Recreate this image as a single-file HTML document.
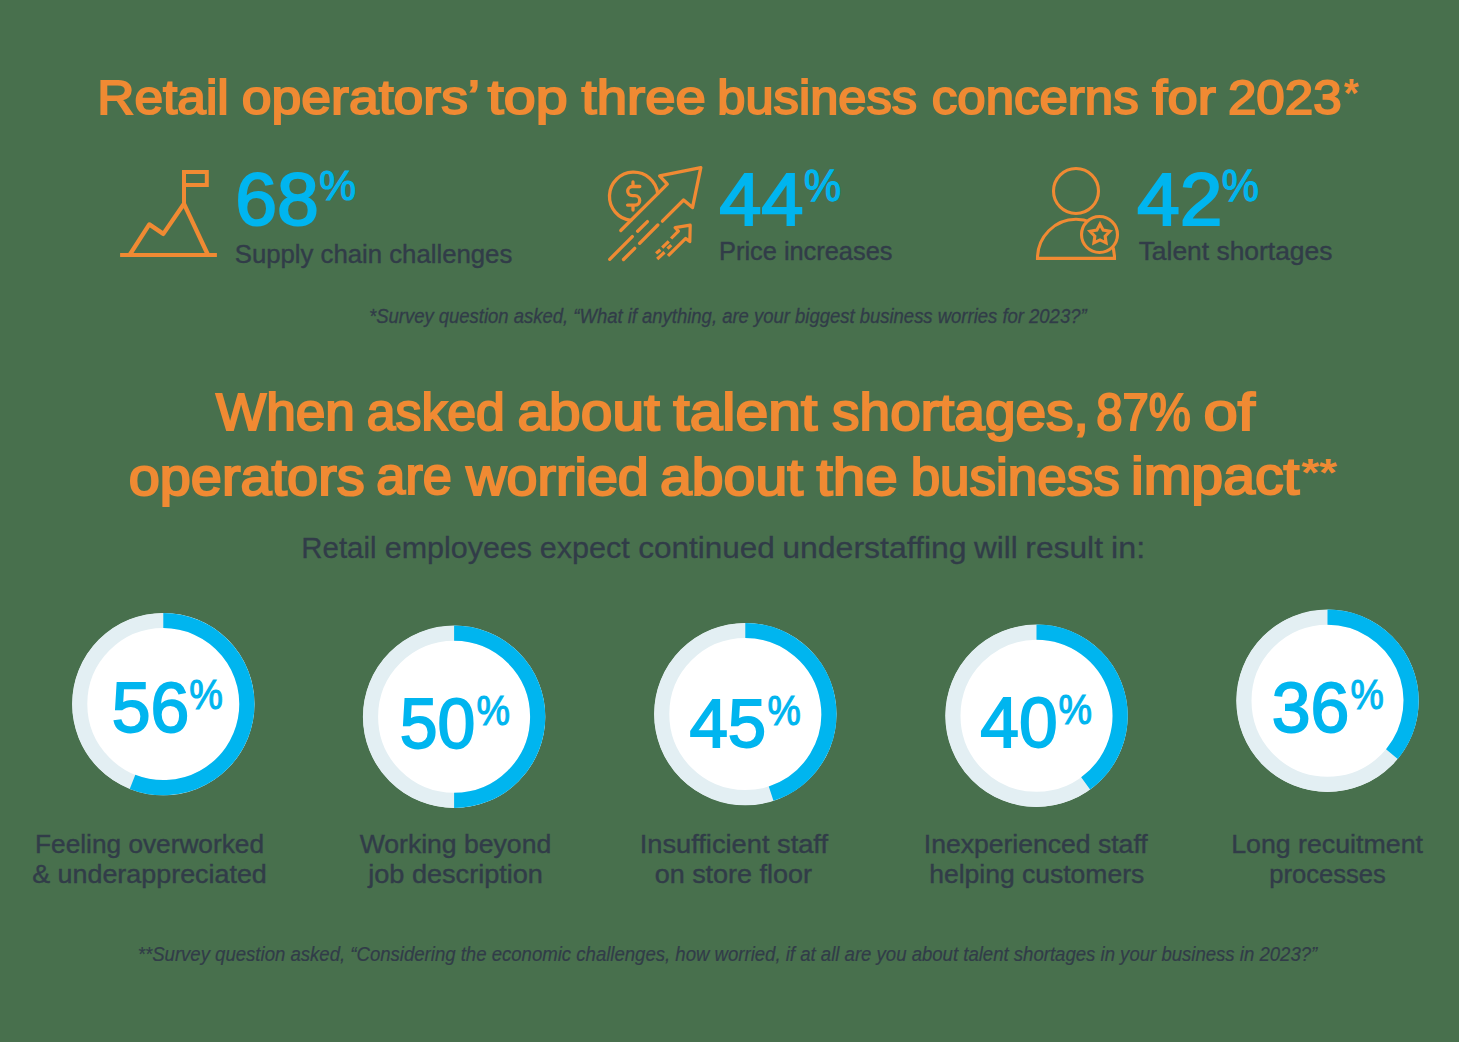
<!DOCTYPE html>
<html><head><meta charset="utf-8"><title>Retail infographic</title>
<style>
html,body{margin:0;padding:0}
body{width:1459px;height:1042px;background:#48704d;position:relative;overflow:hidden;font-family:"Liberation Sans",sans-serif}
.t{position:absolute;left:0;top:0;white-space:nowrap;line-height:1;transform-origin:0 0}
svg{position:absolute;left:0;top:0}
</style></head><body>
<svg width="1459" height="1042" viewBox="0 0 1459 1042">
<circle cx="163.3" cy="704.1" r="90.90" fill="#fff"/><circle cx="163.3" cy="704.1" r="83.60" fill="none" stroke="#e3eff3" stroke-width="15.2"/><path d="M163.30 620.50A83.60 83.60 0 1 1 132.52 781.83" fill="none" stroke="#00b5ef" stroke-width="15.2"/>
<circle cx="454.1" cy="716.8" r="90.90" fill="#fff"/><circle cx="454.1" cy="716.8" r="83.60" fill="none" stroke="#e3eff3" stroke-width="15.2"/><path d="M454.10 633.20A83.60 83.60 0 0 1 454.10 800.40" fill="none" stroke="#00b5ef" stroke-width="15.2"/>
<circle cx="745.3" cy="714.1" r="90.90" fill="#fff"/><circle cx="745.3" cy="714.1" r="83.60" fill="none" stroke="#e3eff3" stroke-width="15.2"/><path d="M745.30 630.50A83.60 83.60 0 0 1 771.13 793.61" fill="none" stroke="#00b5ef" stroke-width="15.2"/>
<circle cx="1036.5" cy="715.8" r="90.90" fill="#fff"/><circle cx="1036.5" cy="715.8" r="83.60" fill="none" stroke="#e3eff3" stroke-width="15.2"/><path d="M1036.50 632.20A83.60 83.60 0 0 1 1085.64 783.43" fill="none" stroke="#00b5ef" stroke-width="15.2"/>
<circle cx="1327.5" cy="700.8" r="90.90" fill="#fff"/><circle cx="1327.5" cy="700.8" r="83.60" fill="none" stroke="#e3eff3" stroke-width="15.2"/><path d="M1327.50 617.20A83.60 83.60 0 0 1 1391.91 754.09" fill="none" stroke="#00b5ef" stroke-width="15.2"/>
<g fill="none" stroke="#f08a33" stroke-width="4" stroke-linejoin="round" stroke-linecap="butt">
<path d="M120.1 255H216.9"/>
<path d="M129.6 255L149.3 224.4L163.3 233.9L184 203.8L208 255" stroke-width="4.3"/>
<path d="M184 204.5V172.1H206.8V185.1H184" stroke-linejoin="miter"/>
</g>
<g fill="none" stroke="#f08a33" stroke-width="3.3" stroke-linejoin="round" stroke-linecap="round">
<path d="M657.7 193.6A24.2 24.2 0 1 0 630.9 220.4"/>
<path d="M639.8 186.5H632.3A4.6 4.6 0 0 0 632.3 195.7H635A4.7 4.7 0 0 1 635 205.1H627.6M633 181.9V186.5M633 205.1V210"/>
<path d="M620.8 230.5L667.3 184.2L659.6 175.9L700.8 167.6L692.5 207.6L683.6 200L662.4 221.2"/>
<path d="M637.6 231.2L647.4 221.6M639.6 243.3L657.8 225M609.7 259.3L632.3 236.6M623.5 259.5L634.7 248.3"/>
</g>
<g fill="none" stroke="#f08a33" stroke-width="3.2" stroke-linejoin="round" stroke-linecap="butt">
<path d="M671.1 238.5L678.4 231.1L675.2 227.7L690.2 225.2L689.8 241.6L685.7 238.4L668 255.9"/>
<path d="M668.8 241.4L662.2 247.7M660.4 249.7L656.1 253.4M671.2 245.1L667.5 248.7M664.5 252.3L657.2 259"/>
</g>
<g fill="none" stroke="#f08a33" stroke-width="3.1" stroke-linejoin="miter">
<circle cx="1076" cy="191" r="22.5"/>
<path d="M1037.5 258.4A38.5 39.1 0 0 1 1114.5 258.4Z"/>
<circle cx="1099.5" cy="234.55" r="18" fill="#48704d"/>
<path d="M1100.00 224.10L1103.17 230.13L1109.89 231.29L1105.14 236.17L1106.11 242.91L1100.00 239.90L1093.89 242.91L1094.86 236.17L1090.11 231.29L1096.83 230.13Z" stroke-width="3.1"/>
</g>
</svg>
<div class="t" style="color:#f08a33;font-size:34px;font-weight:700;transform:translate(1343.63px,72.93px) scale(1.1273,1.1733)">*</div>
<div class="t" style="color:#00b5ef;font-size:76px;font-weight:400;-webkit-text-stroke:2.0px currentColor;transform:translate(235.14px,162.18px) scale(0.9896,0.9833)">68</div>
<div class="t" style="color:#00b5ef;font-size:45px;font-weight:400;-webkit-text-stroke:1.3px currentColor;transform:translate(319.21px,164.49px) scale(0.9172,0.9416)">%</div>
<div class="t" style="color:#313c48;font-size:25px;font-weight:400;-webkit-text-stroke:0.4px currentColor;transform:translate(234.72px,242.38px) scale(1.0295,1.0000)">Supply chain challenges</div>
<div class="t" style="color:#00b5ef;font-size:76px;font-weight:400;-webkit-text-stroke:2.0px currentColor;transform:translate(719.18px,162.39px) scale(0.9978,0.9727)">44</div>
<div class="t" style="color:#00b5ef;font-size:45px;font-weight:400;-webkit-text-stroke:1.3px currentColor;transform:translate(804.06px,163.66px) scale(0.9246,0.9734)">%</div>
<div class="t" style="color:#313c48;font-size:25px;font-weight:400;-webkit-text-stroke:0.4px currentColor;transform:translate(719.02px,238.50px) scale(1.0149,1.0000)">Price increases</div>
<div class="t" style="color:#00b5ef;font-size:76px;font-weight:400;-webkit-text-stroke:2.0px currentColor;transform:translate(1137.06px,161.79px) scale(1.0118,0.9818)">42</div>
<div class="t" style="color:#00b5ef;font-size:45px;font-weight:400;-webkit-text-stroke:1.3px currentColor;transform:translate(1221.63px,163.66px) scale(0.9280,0.9734)">%</div>
<div class="t" style="color:#313c48;font-size:25px;font-weight:400;-webkit-text-stroke:0.4px currentColor;transform:translate(1138.67px,238.50px) scale(1.0563,1.0000)">Talent shortages</div>
<div class="t" style="color:#313c48;font-size:19.5px;font-weight:400;font-style:italic;-webkit-text-stroke:0.3px currentColor;transform:translate(369.01px,307.03px) scale(0.9471,1.0000)">*Survey question asked, “What if anything, are your biggest business worries for 2023?”</div>
<div class="t" style="color:#f08a33;font-size:34px;font-weight:700;transform:translate(1301.14px,453.05px) scale(1.3536,1.1370)">**</div>
<div class="t" style="color:#313c48;font-size:19.5px;font-weight:400;font-style:italic;-webkit-text-stroke:0.2px currentColor;transform:translate(137.72px,945.17px) scale(0.9520,1.0000)">**Survey question asked, “Considering the economic challenges, how worried, if at all are you about talent shortages in your business in 2023?”</div>
<div class="t" style="color:#313c48;font-size:25px;font-weight:400;-webkit-text-stroke:0.4px currentColor;transform:translate(35.05px,831.83px) scale(1.0493,1.0000)">Feeling overworked</div>
<div class="t" style="color:#313c48;font-size:25px;font-weight:400;-webkit-text-stroke:0.4px currentColor;transform:translate(32.18px,861.62px) scale(1.0752,1.0000)">&amp; underappreciated</div>
<div class="t" style="color:#313c48;font-size:25px;font-weight:400;-webkit-text-stroke:0.4px currentColor;transform:translate(359.65px,832.07px) scale(1.0630,1.0000)">Working beyond</div>
<div class="t" style="color:#313c48;font-size:25px;font-weight:400;-webkit-text-stroke:0.4px currentColor;transform:translate(368.27px,861.50px) scale(1.0835,1.0000)">job description</div>
<div class="t" style="color:#313c48;font-size:25px;font-weight:400;-webkit-text-stroke:0.4px currentColor;transform:translate(639.74px,832.07px) scale(1.0895,1.0000)">Insufficient staff</div>
<div class="t" style="color:#313c48;font-size:25px;font-weight:400;-webkit-text-stroke:0.4px currentColor;transform:translate(654.65px,861.77px) scale(1.0786,1.0000)">on store floor</div>
<div class="t" style="color:#313c48;font-size:25px;font-weight:400;-webkit-text-stroke:0.4px currentColor;transform:translate(923.77px,832.07px) scale(1.0621,1.0000)">Inexperienced staff</div>
<div class="t" style="color:#313c48;font-size:25px;font-weight:400;-webkit-text-stroke:0.4px currentColor;transform:translate(929.19px,861.56px) scale(1.0598,1.0000)">helping customers</div>
<div class="t" style="color:#313c48;font-size:25px;font-weight:400;-webkit-text-stroke:0.4px currentColor;transform:translate(1231.17px,831.65px) scale(1.0697,1.0000)">Long recuitment</div>
<div class="t" style="color:#313c48;font-size:25px;font-weight:400;-webkit-text-stroke:0.4px currentColor;transform:translate(1269.34px,861.77px) scale(1.0226,1.0000)">processes</div>
<div class="t" style="color:#00b5ef;font-size:70px;font-weight:400;-webkit-text-stroke:1.8px currentColor;transform:translate(111.66px,672.94px) scale(0.9975,0.9926)">56</div>
<div class="t" style="color:#00b5ef;font-size:42px;font-weight:400;-webkit-text-stroke:1.1px currentColor;transform:translate(189.23px,673.84px) scale(0.9018,0.9918)">%</div>
<div class="t" style="color:#00b5ef;font-size:70px;font-weight:400;-webkit-text-stroke:1.8px currentColor;transform:translate(399.73px,688.98px) scale(0.9716,0.9924)">50</div>
<div class="t" style="color:#00b5ef;font-size:42px;font-weight:400;-webkit-text-stroke:1.1px currentColor;transform:translate(476.51px,689.84px) scale(0.8975,0.9918)">%</div>
<div class="t" style="color:#00b5ef;font-size:70px;font-weight:400;-webkit-text-stroke:1.8px currentColor;transform:translate(689.38px,689.70px) scale(0.9871,0.9774)">45</div>
<div class="t" style="color:#00b5ef;font-size:42px;font-weight:400;-webkit-text-stroke:1.1px currentColor;transform:translate(767.52px,689.84px) scale(0.8927,0.9918)">%</div>
<div class="t" style="color:#00b5ef;font-size:70px;font-weight:400;-webkit-text-stroke:1.8px currentColor;transform:translate(980.30px,687.36px) scale(0.9929,1.0072)">40</div>
<div class="t" style="color:#00b5ef;font-size:42px;font-weight:400;-webkit-text-stroke:1.1px currentColor;transform:translate(1058.51px,688.84px) scale(0.8975,0.9918)">%</div>
<div class="t" style="color:#00b5ef;font-size:70px;font-weight:400;-webkit-text-stroke:1.8px currentColor;transform:translate(1271.79px,672.74px) scale(0.9970,0.9970)">36</div>
<div class="t" style="color:#00b5ef;font-size:42px;font-weight:400;-webkit-text-stroke:1.1px currentColor;transform:translate(1350.52px,673.84px) scale(0.8927,0.9918)">%</div>
<div class="t" style="color:#f08a33;font-size:48.5px;font-weight:400;-webkit-text-stroke:1.9px currentColor;transform:translate(97.31px,73.32px) scale(1.0602,1.0000)">Retail</div>
<div class="t" style="color:#f08a33;font-size:48.5px;font-weight:400;-webkit-text-stroke:1.9px currentColor;transform:translate(241.78px,73.32px) scale(1.1037,1.0000)">operators’</div>
<div class="t" style="color:#f08a33;font-size:48.5px;font-weight:400;-webkit-text-stroke:1.9px currentColor;transform:translate(487.74px,73.22px) scale(1.1842,1.0000)">top</div>
<div class="t" style="color:#f08a33;font-size:48.5px;font-weight:400;-webkit-text-stroke:1.9px currentColor;transform:translate(581.51px,73.44px) scale(1.1250,1.0000)">three</div>
<div class="t" style="color:#f08a33;font-size:48.5px;font-weight:400;-webkit-text-stroke:1.9px currentColor;transform:translate(717.28px,73.22px) scale(1.0438,1.0000)">business</div>
<div class="t" style="color:#f08a33;font-size:48.5px;font-weight:400;-webkit-text-stroke:1.9px currentColor;transform:translate(931.79px,73.38px) scale(1.0512,1.0000)">concerns</div>
<div class="t" style="color:#f08a33;font-size:48.5px;font-weight:400;-webkit-text-stroke:1.9px currentColor;transform:translate(1152.29px,73.22px) scale(1.1222,1.0000)">for</div>
<div class="t" style="color:#f08a33;font-size:48.5px;font-weight:400;-webkit-text-stroke:1.9px currentColor;transform:translate(1227.95px,73.38px) scale(1.0537,1.0000)">2023</div>
<div class="t" style="color:#f08a33;font-size:51px;font-weight:400;-webkit-text-stroke:2.0px currentColor;transform:translate(215.98px,387.21px) scale(1.0426,1.0000)">When</div>
<div class="t" style="color:#f08a33;font-size:51px;font-weight:400;-webkit-text-stroke:2.0px currentColor;transform:translate(366.77px,387.21px) scale(1.0142,1.0000)">asked</div>
<div class="t" style="color:#f08a33;font-size:51px;font-weight:400;-webkit-text-stroke:2.0px currentColor;transform:translate(517.46px,387.11px) scale(1.1157,1.0000)">about</div>
<div class="t" style="color:#f08a33;font-size:51px;font-weight:400;-webkit-text-stroke:2.0px currentColor;transform:translate(673.27px,387.21px) scale(1.1544,1.0000)">talent</div>
<div class="t" style="color:#f08a33;font-size:51px;font-weight:400;-webkit-text-stroke:2.0px currentColor;transform:translate(832.07px,387.11px) scale(1.0782,1.0000)">shortages,</div>
<div class="t" style="color:#f08a33;font-size:51px;font-weight:400;-webkit-text-stroke:2.0px currentColor;transform:translate(1096.28px,386.97px) scale(0.9267,1.0000)">87%</div>
<div class="t" style="color:#f08a33;font-size:51px;font-weight:400;-webkit-text-stroke:2.0px currentColor;transform:translate(1203.54px,387.45px) scale(1.2090,1.0000)">of</div>
<div class="t" style="color:#f08a33;font-size:51px;font-weight:400;-webkit-text-stroke:2.0px currentColor;transform:translate(128.70px,451.90px) scale(1.0955,1.0000)">operators</div>
<div class="t" style="color:#f08a33;font-size:51px;font-weight:400;-webkit-text-stroke:2.0px currentColor;transform:translate(376.31px,451.40px) scale(1.0248,1.0000)">are</div>
<div class="t" style="color:#f08a33;font-size:51px;font-weight:400;-webkit-text-stroke:2.0px currentColor;transform:translate(466.32px,451.70px) scale(1.0914,1.0000)">worried</div>
<div class="t" style="color:#f08a33;font-size:51px;font-weight:400;-webkit-text-stroke:2.0px currentColor;transform:translate(660.00px,451.90px) scale(1.1213,1.0000)">about</div>
<div class="t" style="color:#f08a33;font-size:51px;font-weight:400;-webkit-text-stroke:2.0px currentColor;transform:translate(816.62px,451.90px) scale(1.1461,1.0000)">the</div>
<div class="t" style="color:#f08a33;font-size:51px;font-weight:400;-webkit-text-stroke:2.0px currentColor;transform:translate(910.66px,451.90px) scale(1.0388,1.0000)">business</div>
<div class="t" style="color:#f08a33;font-size:51px;font-weight:400;-webkit-text-stroke:2.0px currentColor;transform:translate(1130.93px,451.40px) scale(1.1220,1.0000)">impact</div>
<div class="t" style="color:#313c48;font-size:29.5px;font-weight:400;-webkit-text-stroke:0.3px currentColor;transform:translate(301.33px,533.34px) scale(0.9959,1.0000)">Retail</div>
<div class="t" style="color:#313c48;font-size:29.5px;font-weight:400;-webkit-text-stroke:0.3px currentColor;transform:translate(384.76px,533.22px) scale(1.0318,1.0000)">employees</div>
<div class="t" style="color:#313c48;font-size:29.5px;font-weight:400;-webkit-text-stroke:0.3px currentColor;transform:translate(539.71px,533.34px) scale(1.0349,1.0000)">expect</div>
<div class="t" style="color:#313c48;font-size:29.5px;font-weight:400;-webkit-text-stroke:0.3px currentColor;transform:translate(638.14px,533.28px) scale(1.0671,1.0000)">continued</div>
<div class="t" style="color:#313c48;font-size:29.5px;font-weight:400;-webkit-text-stroke:0.3px currentColor;transform:translate(782.22px,533.28px) scale(1.0845,1.0000)">understaffing</div>
<div class="t" style="color:#313c48;font-size:29.5px;font-weight:400;-webkit-text-stroke:0.3px currentColor;transform:translate(973.99px,533.22px) scale(1.0649,1.0000)">will</div>
<div class="t" style="color:#313c48;font-size:29.5px;font-weight:400;-webkit-text-stroke:0.3px currentColor;transform:translate(1025.33px,533.34px) scale(1.0762,1.0000)">result</div>
<div class="t" style="color:#313c48;font-size:29.5px;font-weight:400;-webkit-text-stroke:0.3px currentColor;transform:translate(1111.06px,533.34px) scale(1.0928,1.0000)">in:</div>
</body></html>
